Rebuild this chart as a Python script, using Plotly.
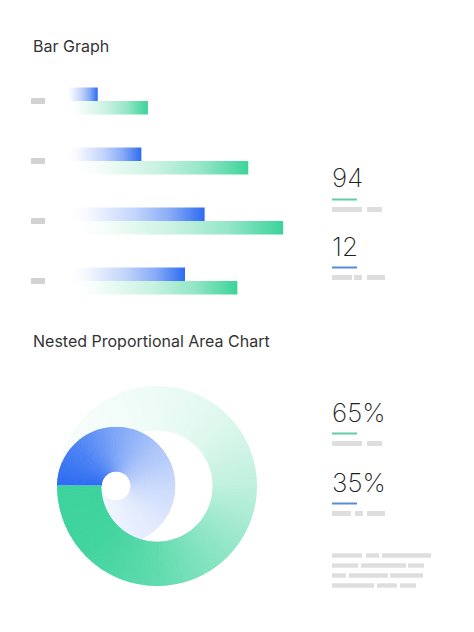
import numpy as np
import plotly.graph_objects as go

W, H = 474, 632

# ---------------- data ----------------
categories = ["Item 1", "Item 2", "Item 3", "Item 4"]
series_blue = [15, 35, 64, 55]
series_green = [38, 84, 100, 79]
kpi_numbers = ["94", "12"]
area_shares = [65, 35]            # percent, outer / inner
area_labels = ["65%", "35%"]


def px(x):
    return x / W


def py(y):
    return 1 - y / H


fig = go.Figure()

# ---------------- bar graph (gradient bars) ----------------
BH = 0.225
blue_cs = [[0, "rgba(255,255,255,0)"], [0.2, "#f1f5fe"], [0.5, "#c3d5fb"],
           [0.75, "#89acf6"], [1, "#2d6cf2"]]
green_cs = [[0, "rgba(255,255,255,0)"], [0.2, "#f3fcf8"], [0.5, "#c9f2e2"],
            [0.75, "#93e6c6"], [1, "#3cd39a"]]

for i, cat in enumerate(categories):
    for val, y0, y1, cs in [(series_blue[i], i - BH, i, blue_cs),
                            (series_green[i], i, i + BH, green_cs)]:
        fig.add_trace(go.Scatter(
            x=[0, val, val, 0, 0], y=[y0, y0, y1, y1, y0],
            mode="lines", line=dict(width=0), fill="toself",
            fillgradient=dict(type="horizontal", colorscale=cs),
            hoverinfo="skip", showlegend=False, xaxis="x", yaxis="y"))

fig.update_layout(
    xaxis=dict(domain=[px(65), px(305)], range=[0, 110], visible=False, fixedrange=True),
    yaxis=dict(domain=[py(311), py(71)], range=[3.5, -0.5], visible=False, fixedrange=True),
)

shapes = []
# category label placeholders
for i, cat in enumerate(categories):
    shapes.append(dict(type="rect", xref="paper", yref="y", x0=px(31), x1=px(45),
                       y0=i - 0.05, y1=i + 0.05, fillcolor="#d2d2d2", line=dict(width=0)))

# ---------------- nested proportional area chart ----------------
R_OUT = 100.0                                   # px radius of outer ring
R_IN = R_OUT * np.sqrt(area_shares[1] / 100.0)  # inner disk radius (area-proportional)
CX, CY = 157, 486
GREEN_HOLE = 0.56 * R_OUT
BLUE_HOLE = 0.25 * R_IN

N = 180
thetas = np.arange(N) * (360 / N) + 360 / N / 2


def mix(rgb, m):
    return ["rgb(%d,%d,%d)" % tuple(int(round(255 * (1 - k) + c * k)) for c in rgb) for k in m]


green_p = ((thetas - 180) % 360) / 360
green_m = np.interp(green_p, [0, 0.12, 0.25, 0.375, 0.5, 0.625, 0.75, 0.875, 1],
                    [1.0, 0.98, 0.82, 0.58, 0.33, 0.17, 0.09, 0.05, 0.03])
green_cols = np.array(mix((61, 211, 156), green_m))

blue_p = ((180 - thetas) % 360) / 360
blue_m = np.interp(blue_p, [0, 0.125, 0.25, 0.375, 0.5, 0.625, 0.75, 1],
                   [1.0, 0.85, 0.6, 0.4, 0.25, 0.14, 0.08, 0.05])
blue_cols = np.array(mix((44, 108, 242), blue_m))

upper = thetas < 180
lower = ~upper


def ring(sub, th, cols, base, thick):
    n = len(th)
    return go.Barpolar(theta=th, r=[thick] * n, base=[base] * n, width=[360 / N] * n,
                       marker=dict(color=list(cols), line=dict(color=list(cols), width=0.8)),
                       subplot=sub, hoverinfo="skip", showlegend=False)


fig.add_trace(ring("polar", thetas[upper], green_cols[upper], GREEN_HOLE, R_OUT - GREEN_HOLE))
fig.add_trace(ring("polar2", thetas, blue_cols, BLUE_HOLE, R_IN - BLUE_HOLE))
fig.add_trace(ring("polar3", thetas[lower], green_cols[lower], GREEN_HOLE, R_OUT - GREEN_HOLE))


def polar_cfg(cx, cy, r):
    return dict(domain=dict(x=[px(cx - r), px(cx + r)], y=[py(cy + r), py(cy - r)]),
                bgcolor="rgba(0,0,0,0)", bargap=0, barmode="overlay", hole=0,
                radialaxis=dict(visible=False, range=[0, r]),
                angularaxis=dict(visible=False, direction="counterclockwise", rotation=0))


bcx = CX - R_OUT + R_IN
fig.update_layout(polar=polar_cfg(CX, CY, R_OUT),
                  polar2=polar_cfg(bcx, CY, R_IN),
                  polar3=polar_cfg(CX, CY, R_OUT))

# ---------------- texts ----------------
ann = []
TXT = dict(family="Inter, 'Open Sans', sans-serif", color="#333333")
ann.append(dict(text="Bar Graph", x=px(31), y=py(46), xref="paper", yref="paper",
                xanchor="left", yanchor="middle", showarrow=False,
                font=dict(size=16, **TXT)))
ann.append(dict(text="Nested Proportional Area Chart", x=px(31), y=py(341), xref="paper",
                yref="paper", xanchor="left", yanchor="middle", showarrow=False,
                font=dict(size=16, **TXT)))

TEAL = "#62cba8"
BLUEL = "#5b8bd6"
GRAY = "#dedede"

kpis = [(kpi_numbers[0], 178, TEAL, [(332, 362), (367, 382)]),
        (kpi_numbers[1], 246, BLUEL, [(332, 352), (354, 362), (367, 385)]),
        (area_labels[0], 412, TEAL, [(332, 362), (367, 382)]),
        (area_labels[1], 482, BLUEL, [(332, 351), (355, 363), (367, 385)])]

for text, yc, col, segs in kpis:
    ann.append(dict(text=text, x=px(330), y=py(yc), xref="paper", yref="paper",
                    xanchor="left", yanchor="middle", showarrow=False,
                    font=dict(size=26, weight=200, family="Inter, 'Open Sans', sans-serif",
                              color="#1e1e1e")))
    ly = yc + 21.5
    shapes.append(dict(type="line", xref="paper", yref="paper", x0=px(332), x1=px(357),
                       y0=py(ly), y1=py(ly), line=dict(color=col, width=2)))
    gy = yc + 31.5
    for a, b in segs:
        shapes.append(dict(type="rect", xref="paper", yref="paper", x0=px(a), x1=px(b),
                           y0=py(gy + 2.5), y1=py(gy - 2.5), fillcolor=GRAY, line=dict(width=0)))

para = [(555.5, [(332, 362), (366, 379), (382, 431)]),
        (565.5, [(332, 358), (361, 406), (408, 424)]),
        (575.5, [(332, 346), (349, 388), (390, 423)]),
        (585.5, [(332, 374), (377, 397), (400, 416)])]
for yc, segs in para:
    for a, b in segs:
        shapes.append(dict(type="rect", xref="paper", yref="paper", x0=px(a), x1=px(b),
                           y0=py(yc + 2.2), y1=py(yc - 2.2), fillcolor=GRAY, line=dict(width=0)))

fig.update_layout(
    width=W, height=H, margin=dict(l=0, r=0, t=0, b=0),
    paper_bgcolor="white", plot_bgcolor="rgba(0,0,0,0)",
    annotations=ann, shapes=shapes, showlegend=False,
)

fig.write_html("out.html", config={"displayModeBar": False})
